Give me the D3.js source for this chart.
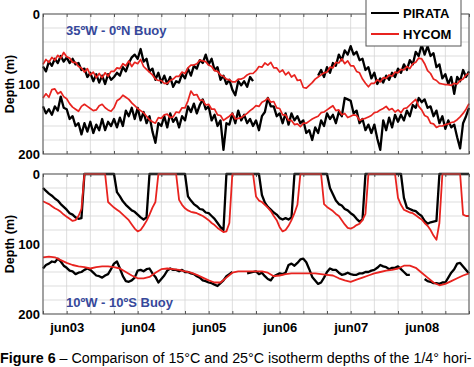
<!DOCTYPE html>
<meta charset="utf-8">
<style>
body { margin: 0; background: #fff; }
text { font-family: "Liberation Sans", Arial, sans-serif; }
</style>
<body>
<script src="https://cdn.jsdelivr.net/npm/d3@7/dist/d3.min.js"></script>
<script>
// time axis: hours since jun02 16:00, 6 days shown
var dayLabels = ["jun03", "jun04", "jun05", "jun06", "jun07", "jun08"];
var dayHours = [8, 32, 56, 80, 104, 128];
var yLabels = [0, 100, 200];

// 35W-0N buoy, 25C isotherm, hourly
var top25Pirata = [75,82,68,74,64,70,60,68,62,70,64,72,
  70,80,78,90,84,96,86,98,88,100,86,94,
  90,84,88,76,82,70,62,58,64,50,68,64,
  82,78,94,84,98,88,100,90,104,96,98,86,
  92,78,88,74,78,66,70,58,72,64,80,76,
  94,88,100,94,108,116,96,102,96,104,90,96,
  null,null,null,null,null,null,null,null,null,null,null,null,
  null,null,null,null,null,null,null,null,null,88,80,90,
  76,84,70,74,58,66,52,58,46,58,54,66,
  64,80,76,92,84,100,92,98,88,94,84,90,
  78,84,72,80,66,72,54,60,44,58,46,60,
  56,76,72,92,86,100,90,114,90,96,80,90,
  82];
var top25Hycom = [72,65,69,62,66,59,63,55,61,63,69,69,
  75,77,83,78,87,83,91,85,91,84,89,82,
  82,77,78,71,74,67,75,69,71,65,75,79,
  83,87,93,95,95,99,99,95,93,89,89,83,
  85,77,73,73,71,66,67,68,73,75,81,82,
  87,89,93,94,97,97,93,93,91,87,85,85,
  81,75,76,70,73,69,77,77,83,80,87,83,
  90,87,95,94,105,106,102,98,93,90,87,84,
  83,76,77,69,70,64,71,67,74,74,82,84,
  93,99,104,99,99,94,97,91,92,87,89,83,
  84,79,80,75,78,71,69,63,64,71,81,85,
  93,95,99,100,101,101,102,99,100,95,93,87,
  85];
// 35W-0N buoy, 15C isotherm, hourly
var top15Pirata = [132,142,136,144,132,138,118,134,136,150,146,160,
  156,172,156,168,154,170,158,166,150,166,154,160,
  150,162,148,160,138,146,134,150,134,152,140,156,
  146,168,184,156,160,146,162,142,154,148,162,146,
  152,132,140,128,142,130,122,136,132,152,144,160,
  152,194,156,158,142,156,138,152,144,156,150,160,
  152,166,146,140,120,132,132,146,142,156,142,158,
  142,152,146,156,152,170,166,180,162,170,152,160,
  142,150,144,156,140,146,120,122,124,142,138,156,
  150,166,158,170,158,178,194,152,166,148,162,144,
  154,144,152,138,146,130,134,120,126,122,134,132,
  146,138,156,146,164,152,162,158,176,192,156,146,
  134];
var top15Hycom = [120,114,119,108,107,114,111,118,121,128,133,136,
  139,132,129,132,135,138,137,131,129,134,137,139,
  134,124,121,116,119,122,127,131,135,138,141,146,
  151,154,156,148,149,144,143,148,147,140,141,134,
  134,124,110,116,115,123,123,130,129,136,136,144,
  145,152,149,146,142,150,149,148,145,142,138,135,
  131,132,126,124,120,126,125,134,135,144,144,152,
  152,158,157,161,156,156,153,150,148,146,141,140,
  137,134,131,138,137,144,142,148,146,144,145,152,
  150,149,147,145,141,140,137,135,132,137,135,140,
  137,141,135,134,130,126,122,132,137,145,147,156,
  157,162,160,160,158,157,155,154,151,147,142,136,
  128];

// 10W-10S buoy, 25C isotherm (0 = reaches the surface), hourly
var bot25Pirata = [20,24,28,31,35,38,43,47,51,56,58,62,
  64,63,0,0,0,0,0,0,0,0,0,0,
  0,26,32,39,44,48,52,54,58,62,65,62,
  0,0,0,0,0,0,0,0,0,0,0,0,
  0,32,38,43,46,50,51,55,56,60,64,70,
  76,80,0,0,0,0,0,0,0,0,0,0,
  0,0,30,41,47,51,55,58,63,65,63,65,
  62,0,0,0,0,0,0,0,0,0,0,0,
  0,20,29,38,43,45,50,52,56,59,64,68,
  65,0,0,0,0,0,0,0,0,0,0,0,
  0,0,34,48,50,52,53,57,60,67,71,69,
  68,67,0,0,0,0,0,0,0,0,0,0,
  0];
var bot25Hycom = [39,41,43,46,49,51,54,58,61,64,67,66,
  60,50,0,0,0,0,0,0,0,0,40,44,
  48,51,54,58,62,66,72,78,82,80,74,67,
  58,48,40,0,0,0,0,0,0,0,37,44,
  49,52,54,55,56,58,60,63,66,70,73,77,
  80,83,82,70,0,0,0,0,0,0,0,0,
  32,38,40,44,48,53,60,66,76,82,80,74,
  66,56,44,0,0,0,0,0,0,0,0,43,
  47,50,53,57,60,66,72,77,78,76,73,71,
  66,57,0,0,0,0,0,0,0,0,0,0,
  34,44,51,53,55,56,59,62,65,70,74,80,
  88,94,70,0,0,0,0,0,0,0,58,60,
  60];
// 10W-10S buoy, 15C isotherm (PIRATA hourly, HYCOM every 2h)
var bot15Pirata = [135,130,128,125,126,121,125,131,134,138,139,143,
  141,140,137,135,137,141,145,146,148,145,143,136,
  128,125,135,146,153,154,152,148,138,137,139,136,
  135,142,147,155,150,145,138,135,137,137,139,137,
  140,140,142,143,146,148,152,153,155,156,158,160,
  156,152,146,143,140,null,null,null,null,142,141,140,
  139,143,141,146,150,152,146,144,142,143,141,130,
  128,131,127,122,121,126,136,147,152,157,155,148,
  140,135,137,137,141,144,143,141,143,144,144,142,
  142,140,140,138,137,134,130,132,133,136,134,134,
  132,136,140,144,144,null,null,null,null,150,153,154,
  156,156,157,155,155,148,141,136,128,127,132,137,
  142];
var bot15Hycom = [119,118,119,123,127,130,132,133,135,133,132,132,
  133,135,140,145,149,149,147,141,136,135,136,137,
  139,141,144,148,152,155,155,148,141,139,139,139,
  139,139,141,146,145,143,142,142,142,142,142,143,
  144,145,149,152,154,151,148,145,142,140,138,137,
  135,131,131,134,141,148,155,159,157,153,149,145,
  142];

var width = 474, height = 367;
var x = d3.scaleLinear().domain([0, 144]).range([43, 469]);

var svg = d3.select("body").append("svg")
    .attr("width", width)
    .attr("height", height);

function drawPanel(top, series, title, titleY) {
  var y = d3.scaleLinear().domain([0, 200]).range([top, top + 140]);
  var g = svg.append("g");

  // grid
  g.selectAll(".vg").data(d3.range(0, 145, 8)).enter().append("line")
      .attr("x1", d => x(d)).attr("x2", d => x(d))
      .attr("y1", top).attr("y2", top + 140)
      .attr("stroke", "#d4d4d4").attr("stroke-width", 0.8);
  g.selectAll(".hg").data(d3.range(0, 201, 20)).enter().append("line")
      .attr("x1", 43).attr("x2", 469)
      .attr("y1", d => y(d)).attr("y2", d => y(d))
      .attr("stroke", "#d4d4d4").attr("stroke-width", 0.8);

  // inward ticks
  g.append("g").attr("transform", "translate(0," + (top + 140) + ")")
      .call(d3.axisBottom(x).tickValues(d3.range(0, 145, 8)).tickSize(-3).tickFormat(""))
      .call(a => a.select(".domain").remove())
      .selectAll("line").attr("stroke", "#555");
  g.append("g").attr("transform", "translate(0," + top + ")")
      .call(d3.axisTop(x).tickValues(d3.range(0, 145, 8)).tickSize(-3).tickFormat(""))
      .call(a => a.select(".domain").remove())
      .selectAll("line").attr("stroke", "#555");

  // y labels
  g.append("g").attr("transform", "translate(43,0)")
      .call(d3.axisLeft(y).tickValues(yLabels).tickSize(0).tickPadding(3))
      .call(a => a.select(".domain").remove())
      .selectAll("text")
      .style("font-size", "13px").style("font-weight", "bold").attr("fill", "#000")
      .style("font-family", "'Liberation Sans', Arial, sans-serif");

  g.append("text")
      .attr("transform", "translate(14," + (top + 70) + ") rotate(-90)")
      .attr("text-anchor", "middle")
      .style("font-size", "12.5px").style("font-weight", "bold")
      .text("Depth (m)");

  var line = d3.line()
      .defined(d => d[1] != null)
      .x(d => x(d[0]))
      .y(d => y(d[1]));

  series.forEach(function(s) {
    var pts = s.values.map((v, i) => [i * s.step, v]);
    g.append("path")
        .datum(pts)
        .attr("fill", "none")
        .attr("stroke", s.color)
        .attr("stroke-width", s.w)
        .attr("stroke-linejoin", "round")
        .attr("d", line);
  });

  // frame
  g.append("rect")
      .attr("x", 43).attr("y", top)
      .attr("width", 426).attr("height", 140)
      .attr("fill", "none").attr("stroke", "#555").attr("stroke-width", 1);

  g.append("text")
      .attr("x", 66).attr("y", titleY)
      .attr("fill", "#36489b")
      .style("font-size", "13px").style("font-weight", "bold")
      .text(title);
}

drawPanel(14, [
  {values: top25Pirata, step: 1, color: "#000", w: 2.3},
  {values: top15Pirata, step: 1, color: "#000", w: 2.3},
  {values: top25Hycom, step: 1, color: "#e8231f", w: 1.7},
  {values: top15Hycom, step: 1, color: "#e8231f", w: 1.7}
], "35ºW - 0ºN Buoy", 35);

drawPanel(174, [
  {values: bot25Pirata, step: 1, color: "#000", w: 2.3},
  {values: bot15Pirata, step: 1, color: "#000", w: 2.3},
  {values: bot25Hycom, step: 1, color: "#e8231f", w: 1.8},
  {values: bot15Hycom, step: 2, color: "#e8231f", w: 1.8}
], "10ºW - 10ºS Buoy", 307);

// day labels under the lower panel
svg.append("g").attr("transform", "translate(0,314)")
    .call(d3.axisBottom(x).tickValues(dayHours).tickSize(0).tickPadding(9)
      .tickFormat((d, i) => dayLabels[i]))
    .call(a => a.select(".domain").remove())
    .selectAll("text")
    .style("font-size", "13px").style("font-weight", "bold")
    .style("font-family", "'Liberation Sans', Arial, sans-serif");

// legend
var leg = svg.append("g");
leg.append("rect").attr("x", 366).attr("y", -2).attr("width", 95).attr("height", 48)
    .attr("fill", "#fff").attr("stroke", "#555");
[["PIRATA", "#000", 13], ["HYCOM", "#e8231f", 34]].forEach(function(d) {
  leg.append("line").attr("x1", 371).attr("x2", 399).attr("y1", d[2]).attr("y2", d[2])
      .attr("stroke", d[1]).attr("stroke-width", 2);
  leg.append("text").attr("x", 403).attr("y", d[2] + 5)
      .style("font-size", "13px").style("font-weight", "bold")
      .text(d[0]);
});

// caption, first line only
var cap = svg.append("text")
    .attr("x", 0).attr("y", 0)
    .style("font-size", "14.5px")
    .style("font-family", "'Liberation Sans Narrow', 'Liberation Sans', Arial, sans-serif");
cap.append("tspan").style("font-weight", "bold").text("Figure 6");
cap.append("tspan").text(" – Comparison of 15°C and 25°C isotherm depths of the 1/4° hori-");
var cw = cap.node().getComputedTextLength();
cap.attr("transform", "translate(0,363) scale(" + (472 / cw) + ",1)");
</script>
</body>
